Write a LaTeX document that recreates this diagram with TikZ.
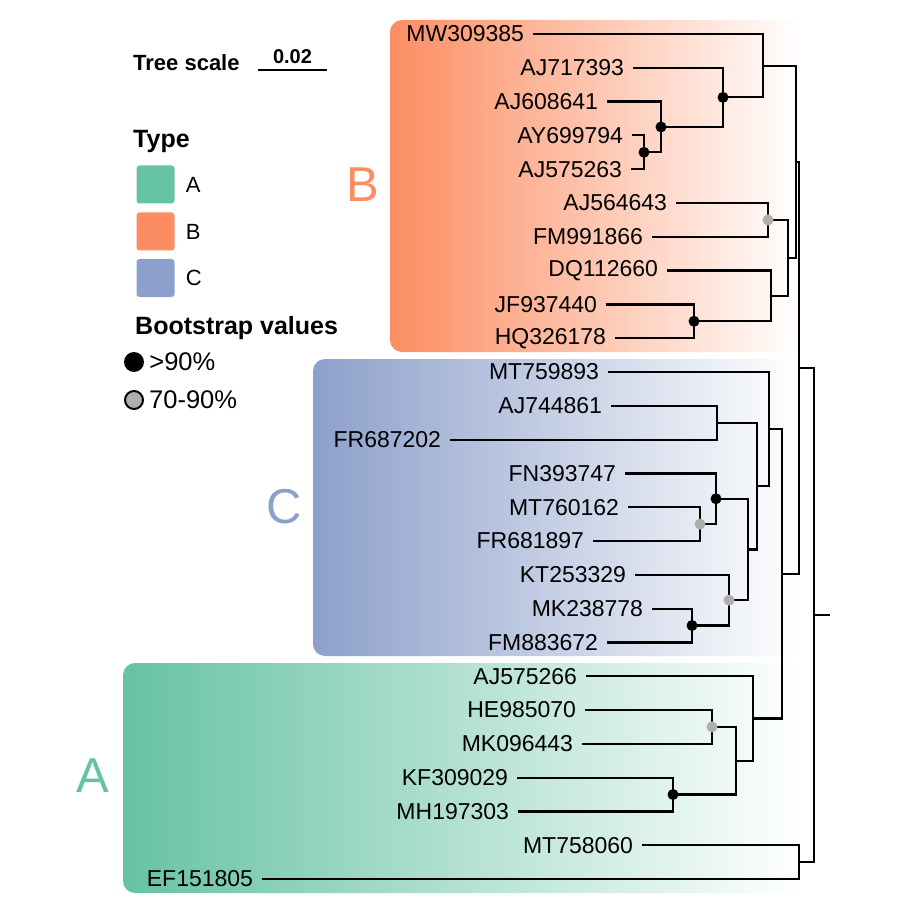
\documentclass[tikz,border=0pt]{standalone}
\usepackage{fontspec}
\setmainfont{Liberation Sans}
\usepackage{xcolor}
\usetikzlibrary{calc, positioning}
\definecolor{typeA}{HTML}{66C2A5}
\definecolor{typeB}{HTML}{FC8D62}
\definecolor{typeC}{HTML}{8DA0CB}
\definecolor{bsgrey}{HTML}{AEAEAE}

\begin{document}
\begin{tikzpicture}[x=1pt, y=-1pt]%{{{
        \useasboundingbox (0,0) rectangle (916,912);

        \tikzstyle{box} = [rounded corners=12pt, right color=white];
        \shade [box, left color=typeB] (390,20) rectangle (800,352);
        \shade [box, left color=typeC] (313,359) rectangle (800,656);
        \shade [box, left color=typeA] (123,663) rectangle (800,893);

        \tikzstyle{big} = [font=\fontsize{49}{52}\selectfont];
        \node [big, text=typeB] (bigB) at (363,185) {B};
        \node [big, text=typeC] (bigC) at (284,507) {C};
        \node [big, text=typeA] (bigA) at (93,776) {A};

        % legend
        \tikzstyle{ttl} = [anchor=west, inner sep=0pt, font=\bfseries\fontsize{25}{28}\selectfont];
        \tikzstyle{lg} = [inner sep=0pt, font=\fontsize{22}{25}\selectfont];
        \node [ttl, font=\bfseries\fontsize{22}{25}\selectfont] (tscale) at (133,63) {Tree scale};
        \coordinate (sb1) at (258,70);
        \coordinate (sb2) at (327,70);
        \draw [line width=2.5pt] (sb1) -- (sb2);
        \node [ttl, anchor=south, font=\bfseries\fontsize{20}{23}\selectfont] (sbval) at ($(sb1)!0.5!(sb2) + (0,-6)$) {0.02};

        \node [ttl] (ttype) at (133,141) {Type};
        \tikzstyle{sq} = [rounded corners=3pt, minimum size=38pt, inner sep=0pt];
        \node [sq, fill=typeA] (sqA) at (155.5,184.5) {};
        \node [sq, fill=typeB] (sqB) at (155.5,231.5) {};
        \node [sq, fill=typeC] (sqC) at (155.5,278) {};
        \node [lg, right=11pt of sqA] (labA) {A};
        \node [lg, right=11pt of sqB] (labB) {B};
        \node [lg, right=11pt of sqC] (labC) {C};

        \node [ttl] (tboot) at (135,328) {Bootstrap values};
        \tikzstyle{key} = [circle, minimum size=20pt, inner sep=0pt];
        \node [key, fill=black] (keyHi) at (134,362) {};
        \node [key, fill=bsgrey, draw=black, line width=2pt, minimum size=18pt] (keyMid) at (134,400) {};
        \node [lg, font=\fontsize{25.5}{28}\selectfont, right=5pt of keyHi] (labHi) {>90\%};
        \node [lg, font=\fontsize{25.5}{28}\selectfont, right=5pt of keyMid] (labMid) {70-90\%};

        % leaves
        \tikzstyle{leaf} = [anchor=east, inner xsep=9pt, inner ysep=2pt, outer sep=0pt,
            font=\fontsize{23}{26}\selectfont];
        \foreach \nm/\lx/\lab [count=\i] in {
            lB1/533/MW309385, lB2/633/AJ717393, lB3/607/AJ608641, lB4/632/AY699794,
            lB5/631/AJ575263, lB6/676/AJ564643, lB7/652/FM991866, lB8/667/DQ112660,
            lB9/606/JF937440, lB10/615/HQ326178,
            lC1/608/MT759893, lC2/611/AJ744861, lC3/450/FR687202, lC4/625/FN393747,
            lC5/628/MT760162, lC6/593/FR681897, lC7/635/KT253329, lC8/652/MK238778,
            lC9/607/FM883672,
            lA1/586/AJ575266, lA2/585/HE985070, lA3/582/MK096443, lA4/517/KF309029,
            lA5/518/MH197303, lA6/642/MT758060, lA7/262/EF151805}{
            \node [leaf] (\nm) at (\lx, {34+33.8*(\i-1)}) {\lab};
        }

        % internal nodes
        \foreach \nm/\nx/\ny in {
            iB1/644/152.3, iB2/661/126.95, iB3/723/97.4, iB4/763/65.7, iB5/768/219.9,
            iB6/694/321.3, iB7/771/295.95, iB8/788/257.9, iB9/796/161.8,
            iC1/717/422.7, iC2/700/524.1, iC3/716/498.75, iC4/692/625.5, iC5/729/600.15,
            iC6/748/549.45, iC7/757/486.1, iC8/769/429.05,
            iA1/712/726.9, iA2/673/794.5, iA3/736/760.7, iA4/753/718.45, iA5/799/862.1,
            iR1/782/573.75, iR2/799/367.8, iR3/814/614.95}{
            \coordinate (\nm) at (\nx,\ny);
        }
        \coordinate (stem) at (830,614.95);

        \tikzstyle{br} = [line width=2.2pt];
        \foreach \p/\c in {
            iB1/lB4, iB1/lB5, iB2/lB3, iB2/iB1, iB3/lB2, iB3/iB2, iB4/lB1, iB4/iB3,
            iB5/lB6, iB5/lB7, iB6/lB9, iB6/lB10, iB7/lB8, iB7/iB6, iB8/iB5, iB8/iB7,
            iB9/iB4, iB9/iB8,
            iC1/lC2, iC1/lC3, iC2/lC5, iC2/lC6, iC3/lC4, iC3/iC2, iC4/lC8, iC4/lC9,
            iC5/lC7, iC5/iC4, iC6/iC3, iC6/iC5, iC7/iC1, iC7/iC6, iC8/lC1, iC8/iC7,
            iA1/lA2, iA1/lA3, iA2/lA4, iA2/lA5, iA3/iA1, iA3/iA2, iA4/lA1, iA4/iA3,
            iA5/lA6, iA5/lA7,
            iR1/iC8, iR1/iA4, iR2/iB9, iR2/iR1, iR3/iR2, iR3/iA5}{
            \draw [br] (\p) |- (\c);
        }
        \draw [br] (iR3) -- (stem);

        % bootstrap dots
        \tikzstyle{hi} = [circle, fill=black, inner sep=0pt, minimum size=11pt];
        \tikzstyle{mid} = [circle, fill=bsgrey, inner sep=0pt, minimum size=11pt];
        \foreach \n in {iB1, iB2, iB3, iB6, iC3, iC4, iA2}{
            \node [hi] (d\n) at (\n) {};
        }
        \foreach \n in {iB5, iC2, iC5, iA1}{
            \node [mid] (d\n) at (\n) {};
        }
    \end{tikzpicture}
\end{document}
